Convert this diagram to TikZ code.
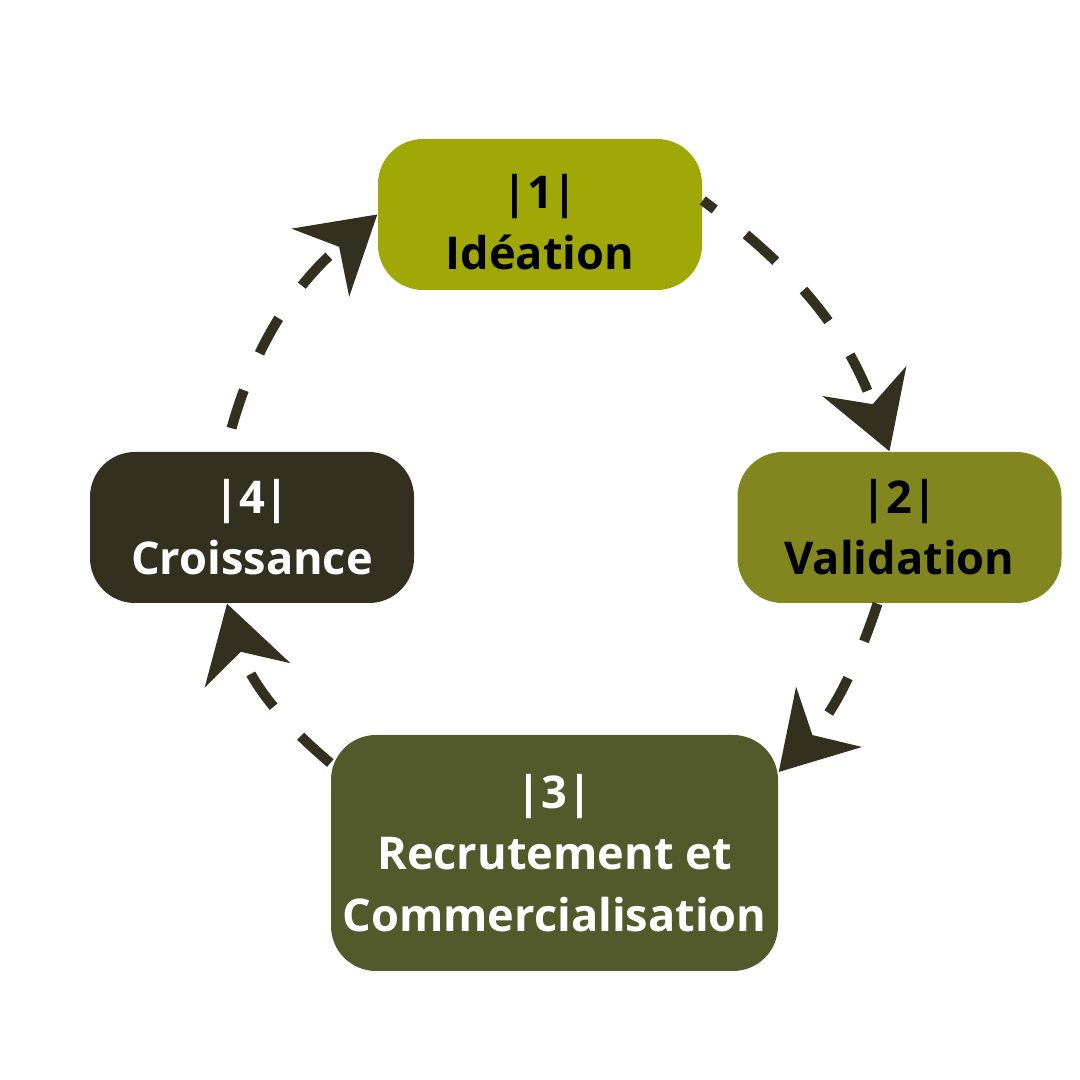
\documentclass[tikz,border=0pt]{standalone}
\usepackage{fontspec}
\setmainfont{Open Sans}
\usepackage{tikz}
\usetikzlibrary{arrows.meta,calc,positioning}
\definecolor{Lime}{HTML}{A0A807}
\definecolor{Olive}{HTML}{82861F}
\definecolor{Moss}{HTML}{52592B}
\definecolor{Bark}{HTML}{333020}

\begin{document}
\begin{tikzpicture}[x=1cm,y=1cm,
    stage/.style={rounded corners=4.5mm,inner sep=0pt,align=center,minimum width=3.24cm,minimum height=1.51cm,font=\fontsize{12.85}{17.4}\selectfont\bfseries},
    flow/.style={Bark,line width=1mm,dash pattern=on 4mm off 4mm,-{Stealth[length=7.4mm,width=8.8mm,inset=2.4mm]}}]
    \fill[white] (0,0) rectangle (10.8,10.8);
    \useasboundingbox (0,0) rectangle (10.8,10.8);

    \node[stage,fill=Lime,text=black] (ide) at (5.40,8.655) {\rule{0pt}{5mm}|1|\\Idéation};
    \node[stage,fill=Olive,text=black] (val) at (8.995,5.525) {|2|\\Validation};
    \node[stage,fill=Moss,text=white,minimum width=4.47cm,minimum height=2.36cm] (rec) at (5.545,2.27) {|3|\\Recrutement et\\Commercialisation};
    \node[stage,fill=Bark,text=white] (cro) at (2.52,5.525) {|4|\\Croissance};

    \draw[flow,shorten <=2.4mm] ([xshift=-2.7mm]cro.north) to[bend left=17] (ide.west);
    \draw[flow,dash phase=2.5mm] ([yshift=1.4mm]ide.east) to[bend left=17] ([xshift=-1mm]val.north);
    \draw[flow] ([xshift=-2.2mm]val.south) to[bend left=12] ([yshift=8.1mm]rec.east);
    \draw[flow] ([yshift=9mm]rec.west) to[bend left=17] ([xshift=-2.5mm]cro.south);
  \end{tikzpicture}
\end{document}
